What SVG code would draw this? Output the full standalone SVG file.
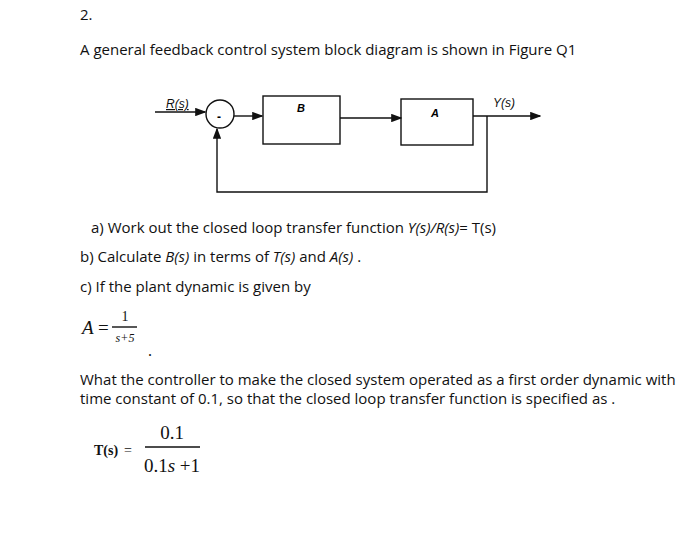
<svg xmlns="http://www.w3.org/2000/svg" width="700" height="560" viewBox="0 0 700 560">
<style>
.t{font-family:"Open Sans","Liberation Sans",sans-serif;font-size:15px;fill:#111}
.s{font-family:"Liberation Sans",sans-serif;font-size:12px;font-style:italic;fill:#111}
.m{font-family:"Liberation Serif",serif;fill:#111}
.ln{stroke:#111;stroke-width:1.4;fill:none}
</style>
<defs><marker id="ar" markerWidth="8" markerHeight="6" refX="7" refY="3" orient="auto"><path d="M0,0L8,3L0,6z" fill="#111"/></marker></defs>
<rect width="700" height="560" fill="#fff"/>
<text class="t" x="80" y="20">2.</text>
<text class="t" x="80" y="55">A general feedback control system block diagram is shown in Figure Q1</text>
<g id="sum"><circle cx="220" cy="114" r="14" class="ln"/><text x="217" y="121" font-family="Liberation Sans" font-weight="bold" font-size="12">-</text></g>
<g id="B"><rect x="263" y="96" width="77" height="48" class="ln"/><text x="297" y="112" font-family="Liberation Sans" font-weight="bold" font-style="italic" font-size="11">B</text></g>
<g id="A"><rect x="401" y="99" width="72" height="46" class="ln"/><text x="431" y="117" font-family="Liberation Sans" font-weight="bold" font-style="italic" font-size="11">A</text></g>
<g id="connectors">
<path d="M155,112H205" class="ln" marker-end="url(#ar)"/>
<path d="M234,116H262" class="ln" marker-end="url(#ar)"/>
<path d="M340,118H401" class="ln" marker-end="url(#ar)"/>
<path d="M473,116H540" class="ln" marker-end="url(#ar)"/>
<path d="M487,116V192H217V129" class="ln" marker-end="url(#ar)"/>
</g>
<text class="s" x="166" y="108" text-decoration="underline">R(s)</text>
<text class="s" x="493" y="107">Y(s)</text>
<text class="t" x="91" y="233">a) Work out the closed loop transfer function <tspan font-style="italic">Y(s)/R(s)</tspan>= T(s)</text>
<text class="t" x="80" y="262">b) Calculate <tspan font-style="italic">B(s)</tspan> in terms of <tspan font-style="italic">T(s)</tspan> and <tspan font-style="italic">A(s)</tspan> .</text>
<text class="t" x="80" y="292">c) If the plant dynamic is given by</text>
<text class="m" x="82" y="334" font-size="19" font-style="italic">A</text>
<text class="m" x="98" y="334" font-size="19">=</text>
<line x1="112" y1="327" x2="137" y2="327" class="ln" stroke-width="1"/>
<text class="m" x="125" y="321" font-size="14" text-anchor="middle">1</text>
<text class="m" x="125" y="342" font-size="12" font-style="italic" text-anchor="middle">s+5</text>
<text class="m" x="148" y="356" font-size="16">.</text>
<text class="t" x="80" y="385">What the controller to make the closed system operated as a first order dynamic with</text>
<text class="t" x="80" y="404">time constant of 0.1, so that the closed loop transfer function is specified as .</text>
<text class="m" x="94" y="455" font-size="14" font-weight="bold">T(s)</text>
<text class="m" x="124" y="455" font-size="14">=</text>
<line x1="145" y1="447" x2="200" y2="447" class="ln" stroke-width="1"/>
<text class="m" x="172" y="439" font-size="19" text-anchor="middle">0.1</text>
<text class="m" x="172" y="472" font-size="19" text-anchor="middle">0.1<tspan font-style="italic">s</tspan> +1</text>
</svg>
